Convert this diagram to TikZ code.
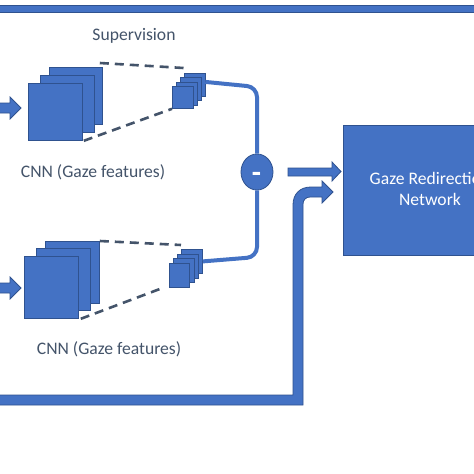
\documentclass[tikz,border=0pt]{standalone}
\usepackage{fontspec}
\setmainfont{Carlito}
\usetikzlibrary{shapes.geometric}
\definecolor{bfill}{HTML}{4472C4}
\definecolor{bedge}{HTML}{2F528F}
\definecolor{txtc}{HTML}{44546A}
\tikzset{
  sq/.style={draw=bedge, fill=bfill, line width=0.8pt, anchor=north west, inner sep=0pt, rectangle},
  blk/.style={draw=bedge, fill=bfill, line width=0.8pt, line join=miter},
  conn/.style={draw=bfill, line width=4pt},
  dsh/.style={draw=txtc, line width=2.6pt, dash pattern=on 9pt off 6pt},
  lbl/.style={text=txtc, font=\fontsize{17.6}{21}\selectfont, inner sep=0pt},
}
\begin{document}
\begin{tikzpicture}[x=1pt,y=-1pt]
\clip (0,0) rectangle (474,474);
\fill[white] (0,0) rectangle (474,474);
% top bar
\path[blk] (-5,5) rectangle (480,12);
% input arrows
\path[blk] (-5,103) -- (10,103) -- (10,97) -- (21,108) -- (10,119) -- (10,113) -- (-5,113) -- cycle;
\path[blk] (-5,283) -- (10,283) -- (10,277) -- (21,288) -- (10,299) -- (10,293) -- (-5,293) -- cycle;
% top big CNN stack
\node[sq, minimum width=53pt, minimum height=57pt] (A3) at (49,67) {};
\node[sq, minimum width=54pt, minimum height=57pt] (A2) at (40,75) {};
\node[sq, minimum width=54pt, minimum height=57pt] (A1) at (28,83) {};
% top small stack
\node[sq, minimum width=21pt, minimum height=23pt] (a4) at (183.5,73) {};
\node[sq, minimum width=21pt, minimum height=23pt] (a3) at (179.5,77.3) {};
\node[sq, minimum width=21pt, minimum height=23pt] (a2) at (175.7,81.6) {};
\node[sq, minimum width=21pt, minimum height=22pt] (a1) at (172,86) {};
% bottom big CNN stack
\node[sq, minimum width=54pt, minimum height=62pt] (B3) at (45,241) {};
\node[sq, minimum width=54pt, minimum height=62pt] (B2) at (36,248) {};
\node[sq, minimum width=54pt, minimum height=62pt] (B1) at (24,256) {};
% bottom small stack
\node[sq, minimum width=21pt, minimum height=24pt] (b4) at (181,249) {};
\node[sq, minimum width=21pt, minimum height=24pt] (b3) at (177,253.7) {};
\node[sq, minimum width=21pt, minimum height=24pt] (b2) at (173,258.3) {};
\node[sq, minimum width=20pt, minimum height=24pt] (b1) at (169,263) {};
% dashed projections
\draw[dsh] ([xshift=-3pt,yshift=4pt]A3.north east) -- ([yshift=5pt]a4.north west);
\draw[dsh] ([xshift=1pt]A1.south east) -- (a1.south west);
\draw[dsh] (B3.north east) -- ([yshift=4pt]b4.north west);
\draw[dsh] ([xshift=2pt]B1.south east) -- ([xshift=-6pt]b1.south west);
% subtraction node
\node[ellipse, draw=bedge, fill=bfill, line width=0.8pt, minimum width=32pt, minimum height=36pt, inner sep=0pt] (minus) at (257,172) {};
\node[text=white, font=\fontsize{30}{30}\selectfont\bfseries, inner sep=0pt, anchor=base] (minussign) at (256.5,182.5) {-};
% connectors to subtraction
\draw[conn, rounded corners=10pt] ([yshift=3pt]a4.east) -- (minus.north |- 0,87) -- (minus.north);
\draw[conn, rounded corners=10pt] (minus.south) -- (minus.south |- 0,257) -- (b4.east);
% Gaze redirection network box
\node[draw=bedge, fill=bfill, line width=0.8pt, minimum width=170pt, minimum height=130pt, inner sep=0pt] (gnet) at (428,190) {};
\node[text=white, font=\fontsize{17.6}{21}\selectfont, align=center, inner sep=0pt, anchor=base] (gtext) at (430,205) {Gaze Redirection\\Network};
% arrow from subtraction to network
\path[blk] (288,168) -- (332,168) -- (332,162) -- (341,171.5) -- (332,181) -- (332,176) -- (288,176) -- cycle;
% bottom return path into the network
\path[blk] (-5,395) -- (293,395) -- (293,205) .. controls (293,194) and (300,187) .. (311,187) -- (322,187) -- (322,181)
   -- (333,192) -- (322,203) -- (322,197) -- (310,197) .. controls (306,197) and (303,200) .. (303,204) -- (303,405) -- (-5,405) -- cycle;
% labels
\node[lbl] (sup) at (134,36) {Supervision};
\node[lbl] (cnn1) at (93,172) {CNN (Gaze features)};
\node[lbl] (cnn2) at (109,349) {CNN (Gaze features)};
\end{tikzpicture}
\end{document}
